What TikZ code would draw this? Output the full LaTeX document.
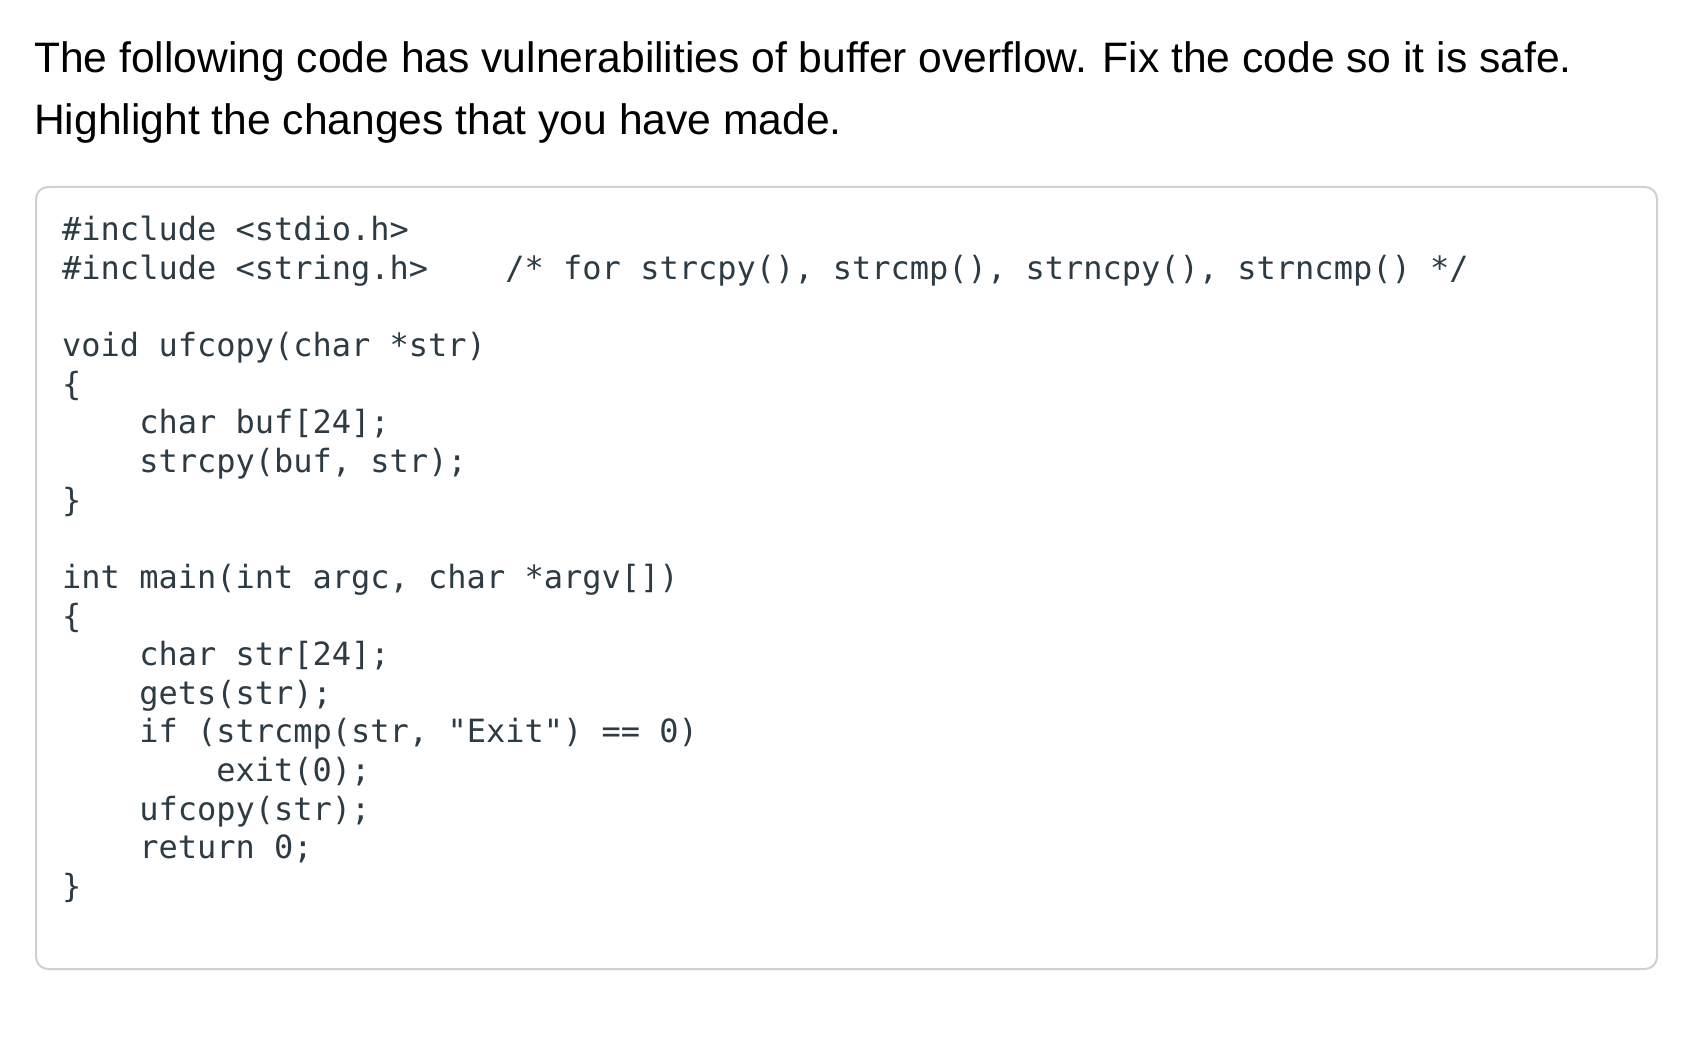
\documentclass[tikz,border=0pt]{standalone}
\usepackage{fontspec}
\setmainfont{Liberation Sans}
\setmonofont{DejaVu Sans Mono}
\usepackage{tikz}

\definecolor{codeink}{HTML}{2D3B45}
\definecolor{frameline}{HTML}{CDD1D5}

\tikzset{
  prompt/.style={anchor=base west, inner sep=0pt, font=\fontsize{42.6}{62}\selectfont},
  code/.style={anchor=base west, inner sep=0pt, text=codeink, font=\ttfamily\fontsize{32}{38.6}\selectfont},
}

\begin{document}
\begin{tikzpicture}[x=1pt,y=-1pt]
\useasboundingbox (0,0) rectangle (1698,1040);

% Question
\node[prompt] (q1) at (34,73) {The following code has vulnerabilities of buffer overflow. Fix the code so it is safe.};
\node[prompt] (q2) at (34,135) {Highlight the changes that you have made.};

% Code frame
\draw[frameline, line width=2pt, rounded corners=12pt, fill=white] (36,187) rectangle (1657,969);

% Includes
\node[code] (inc1) at (62,241) {\#include <stdio.h>};
\node[code] (inc2) at (62,279.6) {\#include <string.h>};
\node[code] (cmt) at (505.2,279.6) {/* for strcpy(), strcmp(), strncpy(), strncmp() */};

% ufcopy
\node[code] (fdecl) at (62,356.8) {void ufcopy(char *str)};
\node[code] (fopen) at (62,395.4) {\{};
\node[code] (fbuf) at (139.1,434) {char buf[24];};
\node[code] (fcopy) at (139.1,472.6) {strcpy(buf, str);};
\node[code] (fclose) at (62,511.2) {\}};

% main
\node[code] (mdecl) at (62,588.4) {int main(int argc, char *argv[])};
\node[code] (mopen) at (62,627) {\{};
\node[code] (mstr) at (139.1,665.6) {char str[24];};
\node[code] (mgets) at (139.1,704.2) {gets(str);};
\node[code] (mif) at (139.1,742.8) {if (strcmp(str, "Exit") == 0)};
\node[code] (mexit) at (216.2,781.4) {exit(0);};
\node[code] (mcall) at (139.1,820) {ufcopy(str);};
\node[code] (mret) at (139.1,858.6) {return 0;};
\node[code] (mclose) at (62,897.2) {\}};
\end{tikzpicture}
\end{document}
